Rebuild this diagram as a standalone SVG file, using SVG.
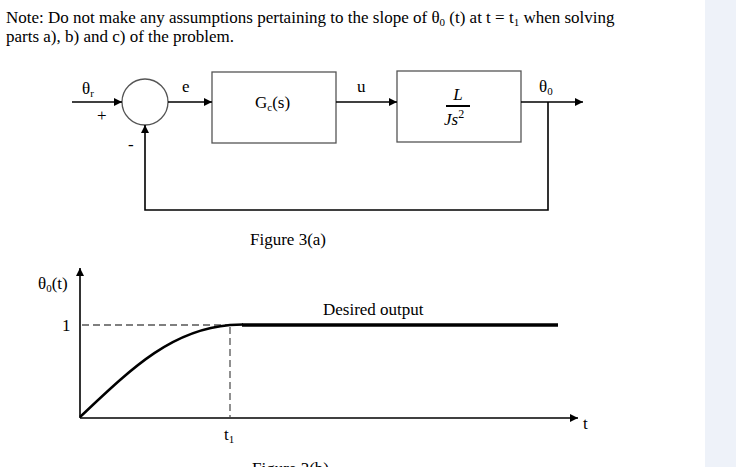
<svg xmlns="http://www.w3.org/2000/svg" width="736" height="467" viewBox="0 0 736 467">
<style>
text{font-family:"Liberation Serif",serif;font-size:17px;fill:#000}
.s{font-size:11px}
.l{stroke:#000;stroke-width:1.6;fill:none}
.b{stroke:#555;stroke-width:1.3;fill:#fff}
.d{stroke:#555;stroke-width:1.3;stroke-dasharray:7,4;fill:none}
</style>
<defs><marker id="a" viewBox="0 0 10 10" refX="10" refY="5" markerWidth="8" markerHeight="8" markerUnits="userSpaceOnUse" orient="auto"><path d="M0,0L10,5L0,10z" fill="#000"/></marker></defs>
<rect x="705" y="0" width="31" height="467" fill="#eef2f9"/>
<text x="6" y="23">Note: Do not make any assumptions pertaining to the slope of θ<tspan class="s" dy="3">0</tspan><tspan dy="-3"> (t) at t = t</tspan><tspan class="s" dy="3">1</tspan><tspan dy="-3"> when solving</tspan></text>
<text x="6" y="42">parts a), b) and c) of the problem.</text>
<g id="sum"><circle cx="145" cy="102" r="23" class="b" stroke="#000"/></g>
<g id="gc"><rect x="212" y="72" width="124" height="71" class="b"/><text x="255" y="108">G<tspan class="s" dy="3">c</tspan><tspan dy="-3">(s)</tspan></text></g>
<g id="plant"><rect x="397" y="71" width="124" height="71" class="b"/>
<text x="458" y="100" text-anchor="middle" font-style="italic" font-size="16">L</text>
<line x1="446" y1="106" x2="470" y2="106" stroke="#000" stroke-width="2"/>
<text x="444" y="125" font-style="italic" font-size="17">Js<tspan font-size="12" dy="-7" font-style="normal">2</tspan></text></g>
<g id="connectors">
<line x1="72" y1="102" x2="122" y2="102" class="l" marker-end="url(#a)"/>
<line x1="168" y1="102" x2="212" y2="102" class="l" marker-end="url(#a)"/>
<line x1="336" y1="102" x2="397" y2="102" class="l" marker-end="url(#a)"/>
<line x1="521" y1="102" x2="583" y2="102" class="l" marker-end="url(#a)"/>
<polyline points="548,102 548,210 145,210 145,125" class="l" marker-end="url(#a)"/>
</g>
<text x="82" y="94">θ<tspan class="s" dy="3">r</tspan></text>
<text x="97" y="121">+</text>
<text x="128" y="150">-</text>
<text x="182" y="92">e</text>
<text x="357" y="92">u</text>
<text x="539" y="92">θ<tspan class="s" dy="3">0</tspan></text>
<text x="250" y="245">Figure 3(a)</text>
<g id="graph">
<line x1="80" y1="418" x2="80" y2="268" class="l" marker-end="url(#a)"/>
<line x1="80" y1="418" x2="578" y2="418" class="l" marker-end="url(#a)"/>
<line x1="82" y1="325" x2="230" y2="325" class="d"/>
<line x1="230" y1="327" x2="230" y2="417" class="d"/>
<path d="M80,417 C130,370 170,330 230,325 L243,324.5" stroke="#000" stroke-width="2.5" fill="none"/>
<line x1="242" y1="325" x2="558" y2="325" stroke="#000" stroke-width="3.5"/>
</g>
<text x="38" y="289">θ<tspan class="s" dy="3">0</tspan><tspan dy="-3">(t)</tspan></text>
<text x="62" y="331">1</text>
<text x="323" y="315">Desired output</text>
<text x="224" y="440">t<tspan class="s" dy="3">1</tspan></text>
<text x="583" y="429">t</text>
<text x="252" y="474">Figure 3(b)</text>
</svg>
